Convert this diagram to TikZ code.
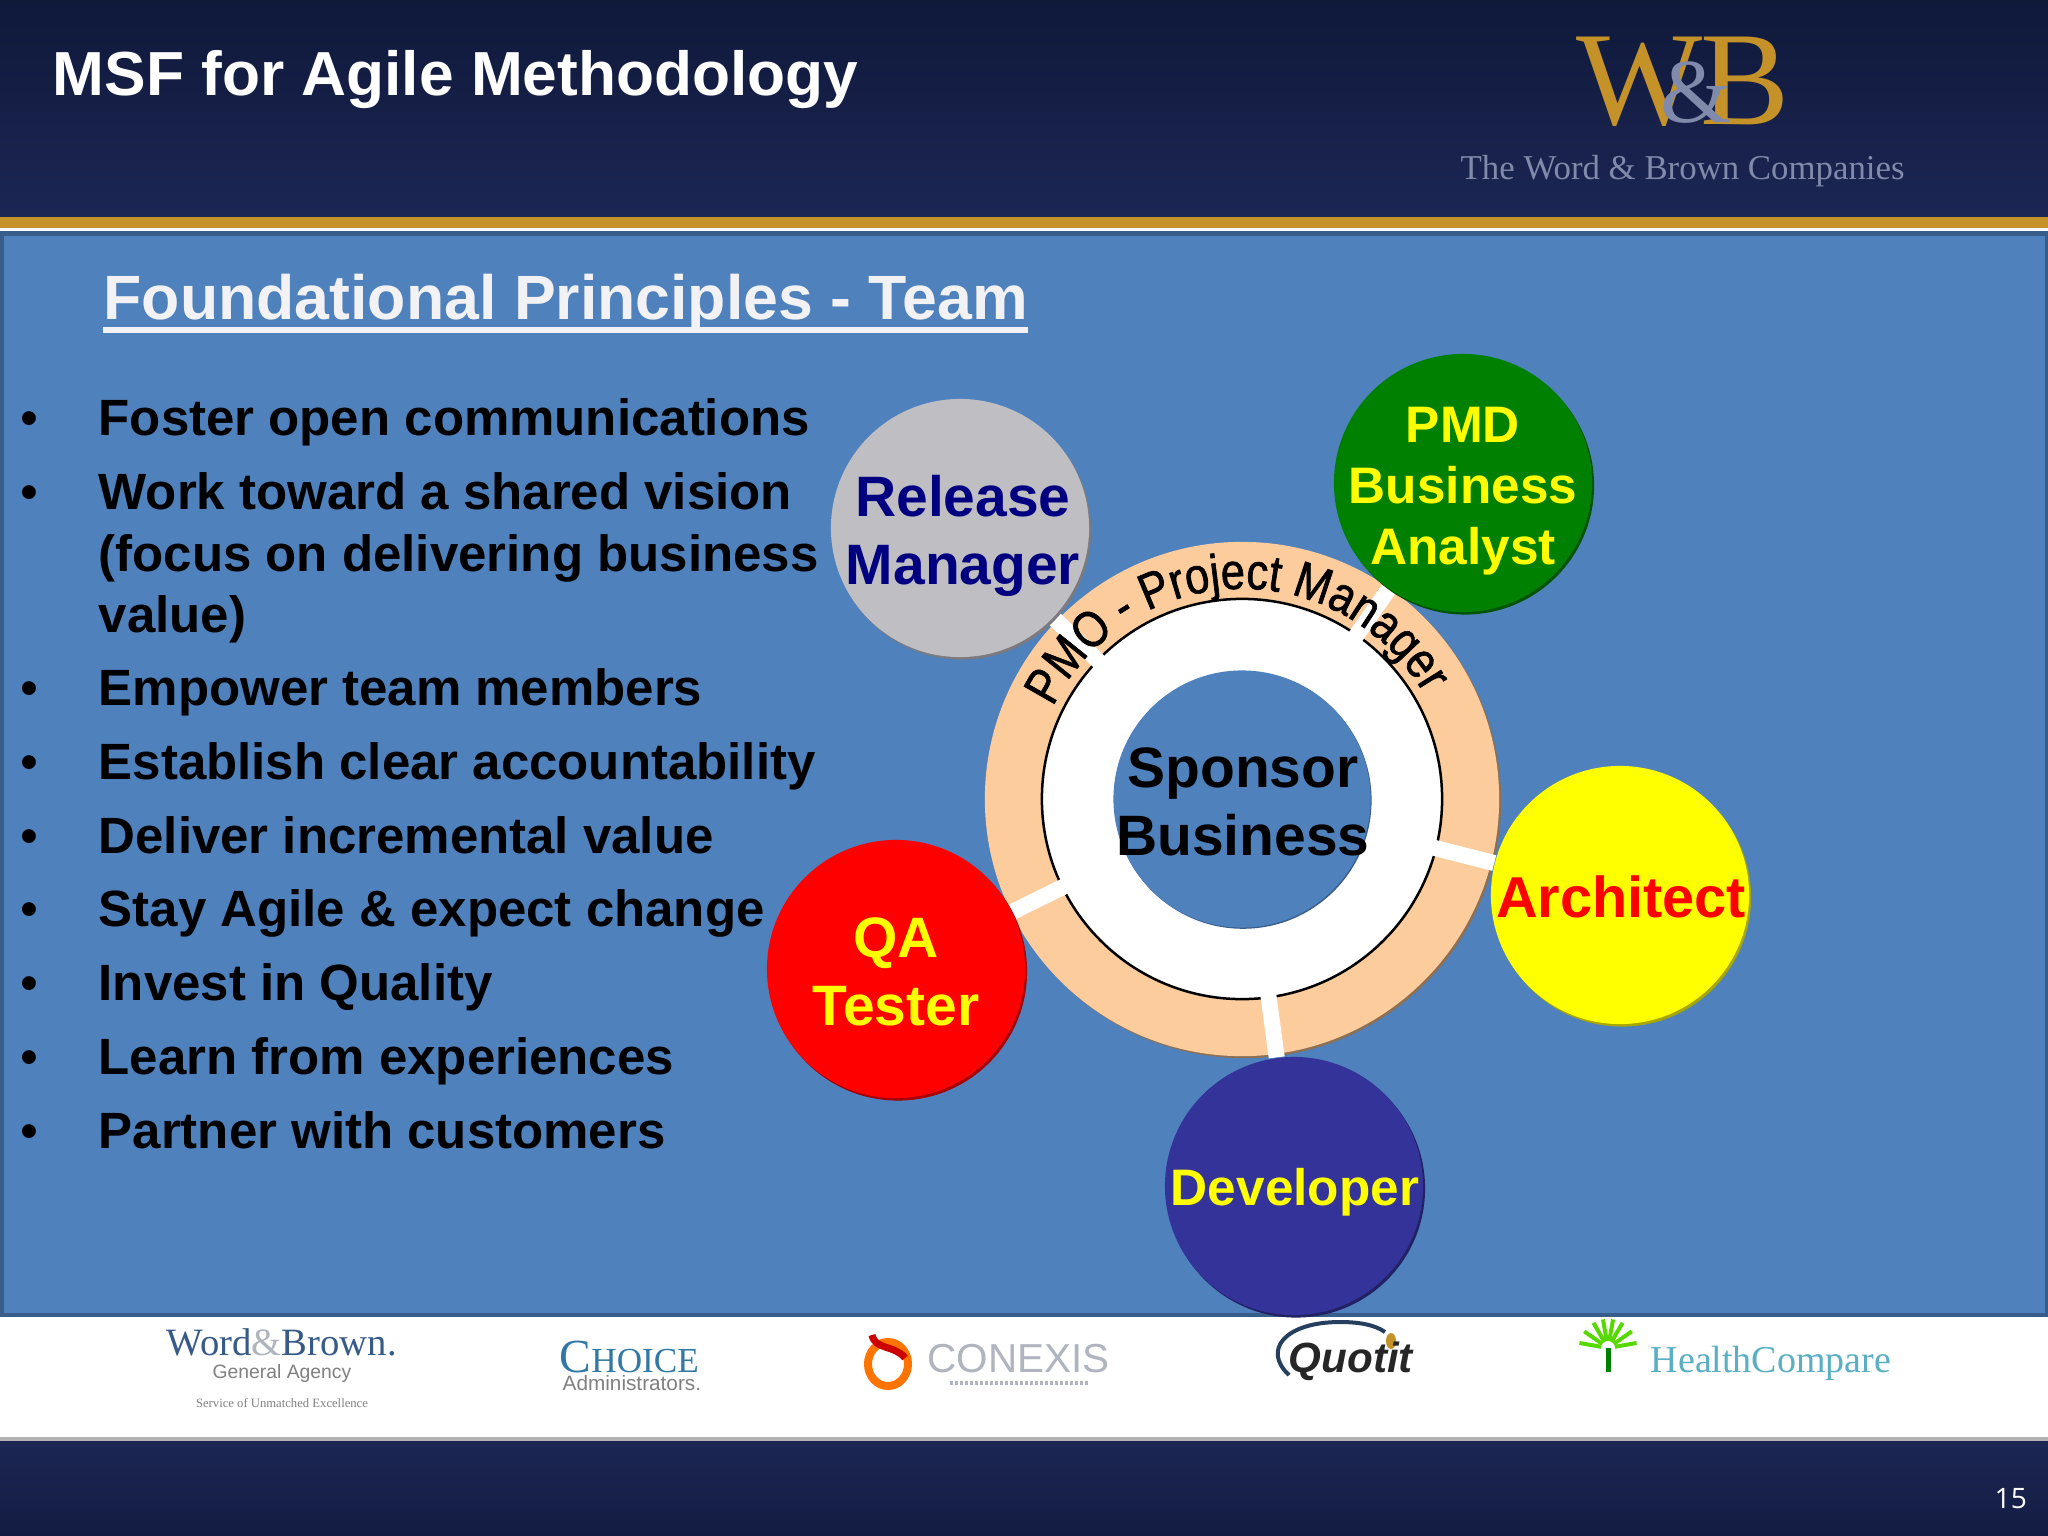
\documentclass[tikz,border=0pt]{standalone}
\usepackage{fontspec}
\setmainfont{Liberation Sans}
\newfontfamily\serifface{Liberation Serif}
\newfontfamily\pagenumface{Open Sans}
\newfontfamily\pmoface[FakeStretch=0.85,FakeBold=1.2]{Liberation Sans}
\usetikzlibrary{backgrounds}
\usetikzlibrary{decorations.text}
\usetikzlibrary{shadows}
\definecolor{navydark}{RGB}{15,25,58}
\definecolor{navylight}{RGB}{28,38,84}
\definecolor{panelblue}{RGB}{79,129,189}
\definecolor{paneledge}{RGB}{56,93,138}
\definecolor{goldbar}{RGB}{196,146,40}
\definecolor{ringpeach}{RGB}{252,204,156}
\definecolor{devblue}{RGB}{51,51,153}
\definecolor{pmdgreen}{RGB}{0,128,0}
\definecolor{releasegray}{RGB}{190,190,195}
\definecolor{roleyellow}{RGB}{255,255,0}
\definecolor{rolered}{RGB}{255,0,0}
\definecolor{rolenavy}{RGB}{0,0,128}
\definecolor{headwhite}{RGB}{242,242,245}
\definecolor{logoblue}{RGB}{55,90,135}
\definecolor{logogray}{RGB}{175,180,190}
\definecolor{logoteal}{RGB}{90,175,195}
\definecolor{choiceblue}{RGB}{50,120,165}
\definecolor{companygray}{RGB}{128,138,170}
\tikzset{
 x=.01cm, y=.01cm,
 rolecircle/.style={circle,minimum size=2.58cm,inner sep=0pt,fill=#1,
   drop shadow={shadow xshift=.02cm,shadow yshift=-.025cm,opacity=1,fill=#1!65!black}},
 rolelabel/.style={inner sep=0pt,align=center,font=\bfseries\fontsize{16.2}{19.2}\selectfont},
 smallrole/.style={font=\bfseries\fontsize{14.6}{17.3}\selectfont},
 item/.style={anchor=base west,inner sep=0pt,text=black,font=\bfseries\fontsize{14.5}{17.4}\selectfont},
 dotmark/.style={anchor=base,inner sep=0pt,text=black,font=\fontsize{14.5}{17.4}\selectfont},
 spoke/.style={draw=white,line width=.16cm},
 logotext/.style={anchor=base west,inner sep=0pt},
 }
\begin{document}
\begin{tikzpicture}
    \useasboundingbox (0,0) rectangle (2048,-1536);
    % people around the ring
    \node[rolecircle=releasegray] (release) at (960,-528) {};
    \node[rolecircle=pmdgreen] (pmd) at (1463,-483) {};
    \node[rolecircle=roleyellow] (architect) at (1620,-895) {};
    \node[rolecircle=devblue] (developer) at (1294,-1186) {};
    \node[rolecircle=rolered] (qa) at (896,-969) {};
    \node[rolelabel,text=rolenavy] (releaselabel) at (963,-536) {Release\\Manager};
    \node[rolelabel,smallrole,text=roleyellow] (pmdlabel) at (1463,-491) {PMD\\Business\\Analyst};
    \node[rolelabel,text=rolered,font=\bfseries\fontsize{16.4}{19}\selectfont] (architectlabel) at (1621,-897) {Architect};
    \node[rolelabel,smallrole,text=roleyellow] (developerlabel) at (1295,-1192) {Developer};
    \node[rolelabel,text=roleyellow] (qalabel) at (896,-972) {QA\\Tester};
    \node[circle,minimum size=2.57cm,inner sep=0pt,fill=panelblue,
      drop shadow={shadow xshift=.01cm,shadow yshift=-.012cm,opacity=1,fill=paneledge}] (sponsor) at (1242,-799) {};
    \node[rolelabel,text=black] (sponsorlabel) at (1243,-802) {Sponsor\\Business};
    \begin{pgfonlayer}{background}
        % bands of the slide
        \path[top color=navydark,bottom color=navylight] (0,0) rectangle (2048,-217);
        \fill[goldbar] (0,-217) rectangle (2048,-228);
        \fill[white] (0,-228) rectangle (2048,-231);
        \draw[fill=panelblue,draw=paneledge,line width=.05cm] (1,-233) rectangle (2047,-1315);
        \fill[white] (0,-1317) rectangle (2048,-1437);
        \fill[gray!60] (0,-1437) rectangle (2048,-1441);
        \path[top color=navylight,bottom color=navydark!70!navylight] (0,-1441) rectangle (2048,-1536);
        % the ring
        \node[circle,minimum size=5.14cm,inner sep=0pt,fill=ringpeach,
          drop shadow={shadow xshift=.02cm,shadow yshift=-.02cm,opacity=1,fill=ringpeach!55!black}] (pmo) at (sponsor) {};
        \node[circle,minimum size=4cm,inner sep=0pt,fill=white,draw=black,line width=.025cm] (team) at (sponsor) {};
        \draw[spoke] (sponsor) -- (release);
        \draw[spoke] (sponsor) -- (pmd);
        \draw[spoke] (sponsor) -- (architect);
        \draw[spoke] (sponsor) -- (developer);
        \draw[spoke] (sponsor) -- (qa);
    \end{pgfonlayer}
    \path[decorate,decoration={text along path,text align=center,
      text={|\pmoface\fontsize{14.5}{18}\selectfont|PMO - Project Manager}}]
      (pmo.center) ++(162:2.1cm) arc[start angle=162,end angle=22,radius=2.1cm];
    % header
    \node[logotext,text=white,font=\bfseries\fontsize{17.7}{20}\selectfont] (title) at (52,-95) {MSF for Agile Methodology};
    \node[logotext,text=goldbar,font=\serifface\fontsize{38}{40}\selectfont] (wbw) at (1576,-124) {W};
    \node[anchor=base east,inner sep=0pt,text=goldbar,font=\serifface\fontsize{38}{40}\selectfont] (wbb) at (1790,-124) {B};
    \node[anchor=base,inner sep=0pt,text=companygray,font=\serifface\fontsize{26}{28}\selectfont] (wbamp) at (1696,-122) {\&};
    \node[logotext,text=companygray,font=\serifface\fontsize{9.9}{12}\selectfont] (companies) at (1460,-179) {The Word \& Brown Companies};
    % left column
    \node[logotext,text=headwhite,font=\bfseries\fontsize{17.8}{21}\selectfont] (heading) at (103,-319) {Foundational Principles - Team};
    \draw[headwhite,line width=.06cm] (103,-330) -- (1028,-330);
    \node[item] (foster) at (98,-435) {Foster open communications};
    \node[item] (vision) at (98,-509) {Work toward a shared vision};
    \node[item] (focus) at (98,-571) {(focus on delivering business};
    \node[item] (value) at (98,-632) {value)};
    \node[item] (empower) at (98,-705) {Empower team members};
    \node[item] (establish) at (98,-779) {Establish clear accountability};
    \node[item] (deliver) at (98,-853) {Deliver incremental value};
    \node[item] (agile) at (98,-926) {Stay Agile \& expect change};
    \node[item] (quality) at (98,-1000) {Invest in Quality};
    \node[item] (learn) at (98,-1074) {Learn from experiences};
    \node[item] (partner) at (98,-1148) {Partner with customers};
    \foreach \name/\ypos in {a/-435,b/-509,c/-705,d/-779,e/-853,f/-926,g/-1000,h/-1074,i/-1148}
        \node[dotmark] (dot\name) at (29,\ypos) {•};
    % logos in the white strip
    \node[logotext,text=logoblue,font=\serifface\fontsize{11}{13}\selectfont] (wordbrown) at (166,-1355) {Word\textcolor{logogray}{\&}Brown.};
    \node[anchor=base,inner sep=0pt,text=gray,font=\fontsize{5.5}{6}\selectfont] (agency) at (282,-1378) {General Agency};
    \node[anchor=base,inner sep=0pt,text=gray,font=\serifface\fontsize{3.6}{4}\selectfont] (excellence) at (282,-1407) {Service of Unmatched Excellence};
    \node[logotext,text=choiceblue,font=\serifface\fontsize{13.5}{15}\selectfont] (choice) at (559,-1372) {C\fontsize{10}{12}\selectfont HOICE};
    \node[logotext,text=gray,font=\fontsize{5.9}{7}\selectfont] (admin) at (562,-1390) {Administrators.};
    \draw[orange!90!red,line width=.08cm] (888,-1364) ellipse[x radius=.2cm,y radius=.22cm];
    \draw[red!80!black,line width=.07cm] (872,-1335) .. controls (875,-1350) and (895,-1345) .. (905,-1358);
    \node[logotext,text=logogray,font=\fontsize{11.5}{13}\selectfont] (conexis) at (927,-1372) {CONEXIS};
    \draw[logogray,line width=.04cm,dash pattern=on .03cm off .02cm] (950,-1383) -- (1088,-1383);
    \draw[logoblue!70!black,line width=.04cm] (1289,-1375) .. controls (1262,-1350) and (1285,-1322) .. (1340,-1322) .. controls (1360,-1322) and (1375,-1325) .. (1385,-1332);
    \fill[goldbar] (1391,-1341) ellipse[x radius=.05cm,y radius=.08cm];
    \node[logotext,text=black!85,font=\bfseries\itshape\fontsize{12}{14}\selectfont] (quotit) at (1288,-1372) {Quotit};
    \draw[green!50!black,line width=.05cm] (1608,-1372) -- (1608,-1348);
    \foreach \tipang in {10,35,60,80,100,120,145,170}
        \draw[green!60!yellow!85!black,line width=.04cm] (1608,-1348) ++(\tipang:.07cm) -- ++(\tipang:.22cm);
    \node[logotext,text=logoteal,font=\serifface\fontsize{10.8}{13}\selectfont] (healthcompare) at (1650,-1372) {HealthCompare};
    \node[logotext,text=white,font=\pagenumface\fontsize{8}{10}\selectfont] (pagenum) at (1994,-1508) {15};
\end{tikzpicture}
\end{document}
